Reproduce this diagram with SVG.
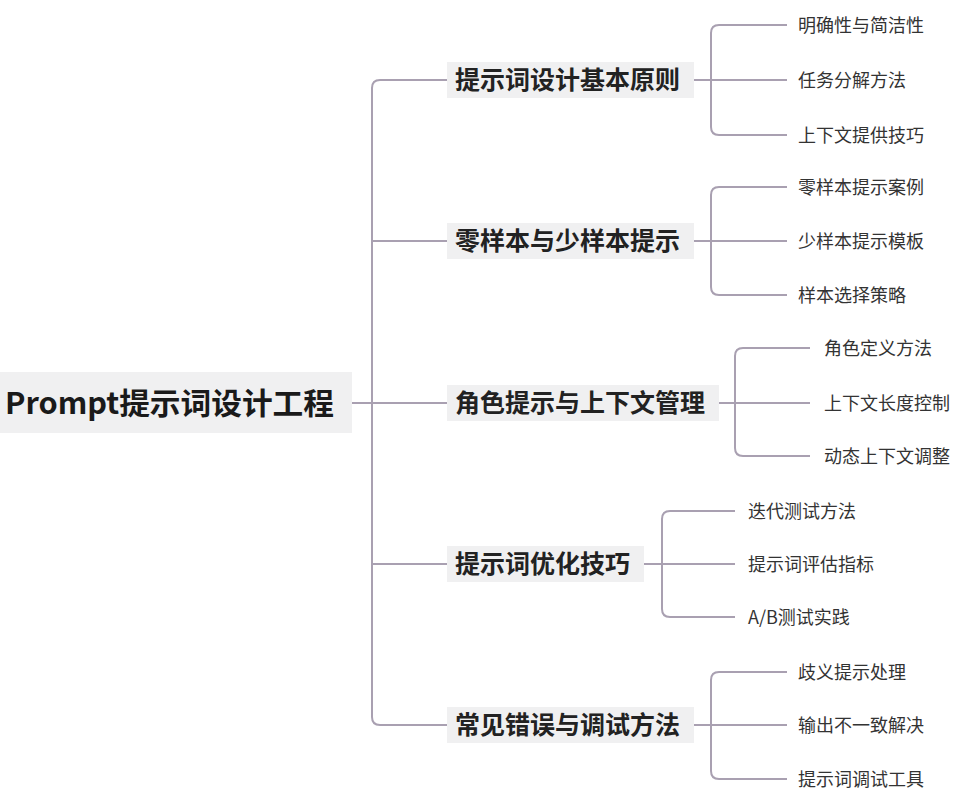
<svg xmlns="http://www.w3.org/2000/svg" width="974" height="811" viewBox="0 0 974 811">
<style>
.bg{fill:#ffffff}
.nb{fill:#f0f0f1}
.ln{fill:none;stroke:#a9a0b1;stroke-width:2}
.root{font-family:"Noto Sans CJK SC","Noto Sans",sans-serif;font-size:30px;font-weight:700;fill:#1a1a1a}
.l1{font-family:"Noto Sans CJK SC",sans-serif;font-size:25px;font-weight:700;fill:#222222}
.l2{font-family:"Noto Sans CJK SC",sans-serif;font-size:18px;font-weight:400;fill:#333333}
</style>
<rect class="bg" x="0" y="0" width="974" height="811"/>
<g id="connectors">
<path class="ln" d="M352,403 H372"/>
<path class="ln" d="M447,80 H380 Q372,80 372,88 V717 Q372,725 380,725 H447"/>
<path class="ln" d="M372,241 H447 M372,403 H447 M372,564 H447"/>
<path class="ln" d="M694,80 H711 M787,25 H719 Q711,25 711,33 V127 Q711,135 719,135 H787 M711,80 H787"/>
<path class="ln" d="M694,241 H711 M787,187 H719 Q711,187 711,195 V287 Q711,295 719,295 H787 M711,241 H787"/>
<path class="ln" d="M719,403 H735 M810,348 H743 Q735,348 735,356 V448 Q735,456 743,456 H810 M735,403 H810"/>
<path class="ln" d="M644,564 H662 M735,511 H670 Q662,511 662,519 V609 Q662,617 670,617 H735 M662,564 H735"/>
<path class="ln" d="M694,725 H711 M787,672 H719 Q711,672 711,680 V771 Q711,779 719,779 H787 M711,725 H787"/>
</g>
<g id="root">
<rect class="nb" x="0" y="372" width="352" height="61"/>
<text class="root" x="5" y="414" textLength="329" lengthAdjust="spacingAndGlyphs">Prompt提示词设计工程</text>
</g>
<g id="n1"><rect class="nb" x="447" y="62" width="247" height="36"/><text class="l1" x="455" y="89">提示词设计基本原则</text></g>
<g id="n2"><rect class="nb" x="447" y="223" width="247" height="36"/><text class="l1" x="455" y="250">零样本与少样本提示</text></g>
<g id="n3"><rect class="nb" x="447" y="385" width="272" height="36"/><text class="l1" x="455" y="412">角色提示与上下文管理</text></g>
<g id="n4"><rect class="nb" x="447" y="546" width="197" height="36"/><text class="l1" x="455" y="573">提示词优化技巧</text></g>
<g id="n5"><rect class="nb" x="447" y="707" width="247" height="36"/><text class="l1" x="455" y="734">常见错误与调试方法</text></g>
<g id="c11"><text class="l2" x="798" y="32">明确性与简洁性</text></g>
<g id="c12"><text class="l2" x="798" y="87">任务分解方法</text></g>
<g id="c13"><text class="l2" x="798" y="142">上下文提供技巧</text></g>
<g id="c21"><text class="l2" x="798" y="194">零样本提示案例</text></g>
<g id="c22"><text class="l2" x="798" y="248">少样本提示模板</text></g>
<g id="c23"><text class="l2" x="798" y="302">样本选择策略</text></g>
<g id="c31"><text class="l2" x="824" y="355">角色定义方法</text></g>
<g id="c32"><text class="l2" x="824" y="410">上下文长度控制</text></g>
<g id="c33"><text class="l2" x="824" y="463">动态上下文调整</text></g>
<g id="c41"><text class="l2" x="748" y="518">迭代测试方法</text></g>
<g id="c42"><text class="l2" x="748" y="571">提示词评估指标</text></g>
<g id="c43"><text class="l2" x="748" y="624">A/B测试实践</text></g>
<g id="c51"><text class="l2" x="798" y="679">歧义提示处理</text></g>
<g id="c52"><text class="l2" x="798" y="732">输出不一致解决</text></g>
<g id="c53"><text class="l2" x="798" y="786">提示词调试工具</text></g>
</svg>
